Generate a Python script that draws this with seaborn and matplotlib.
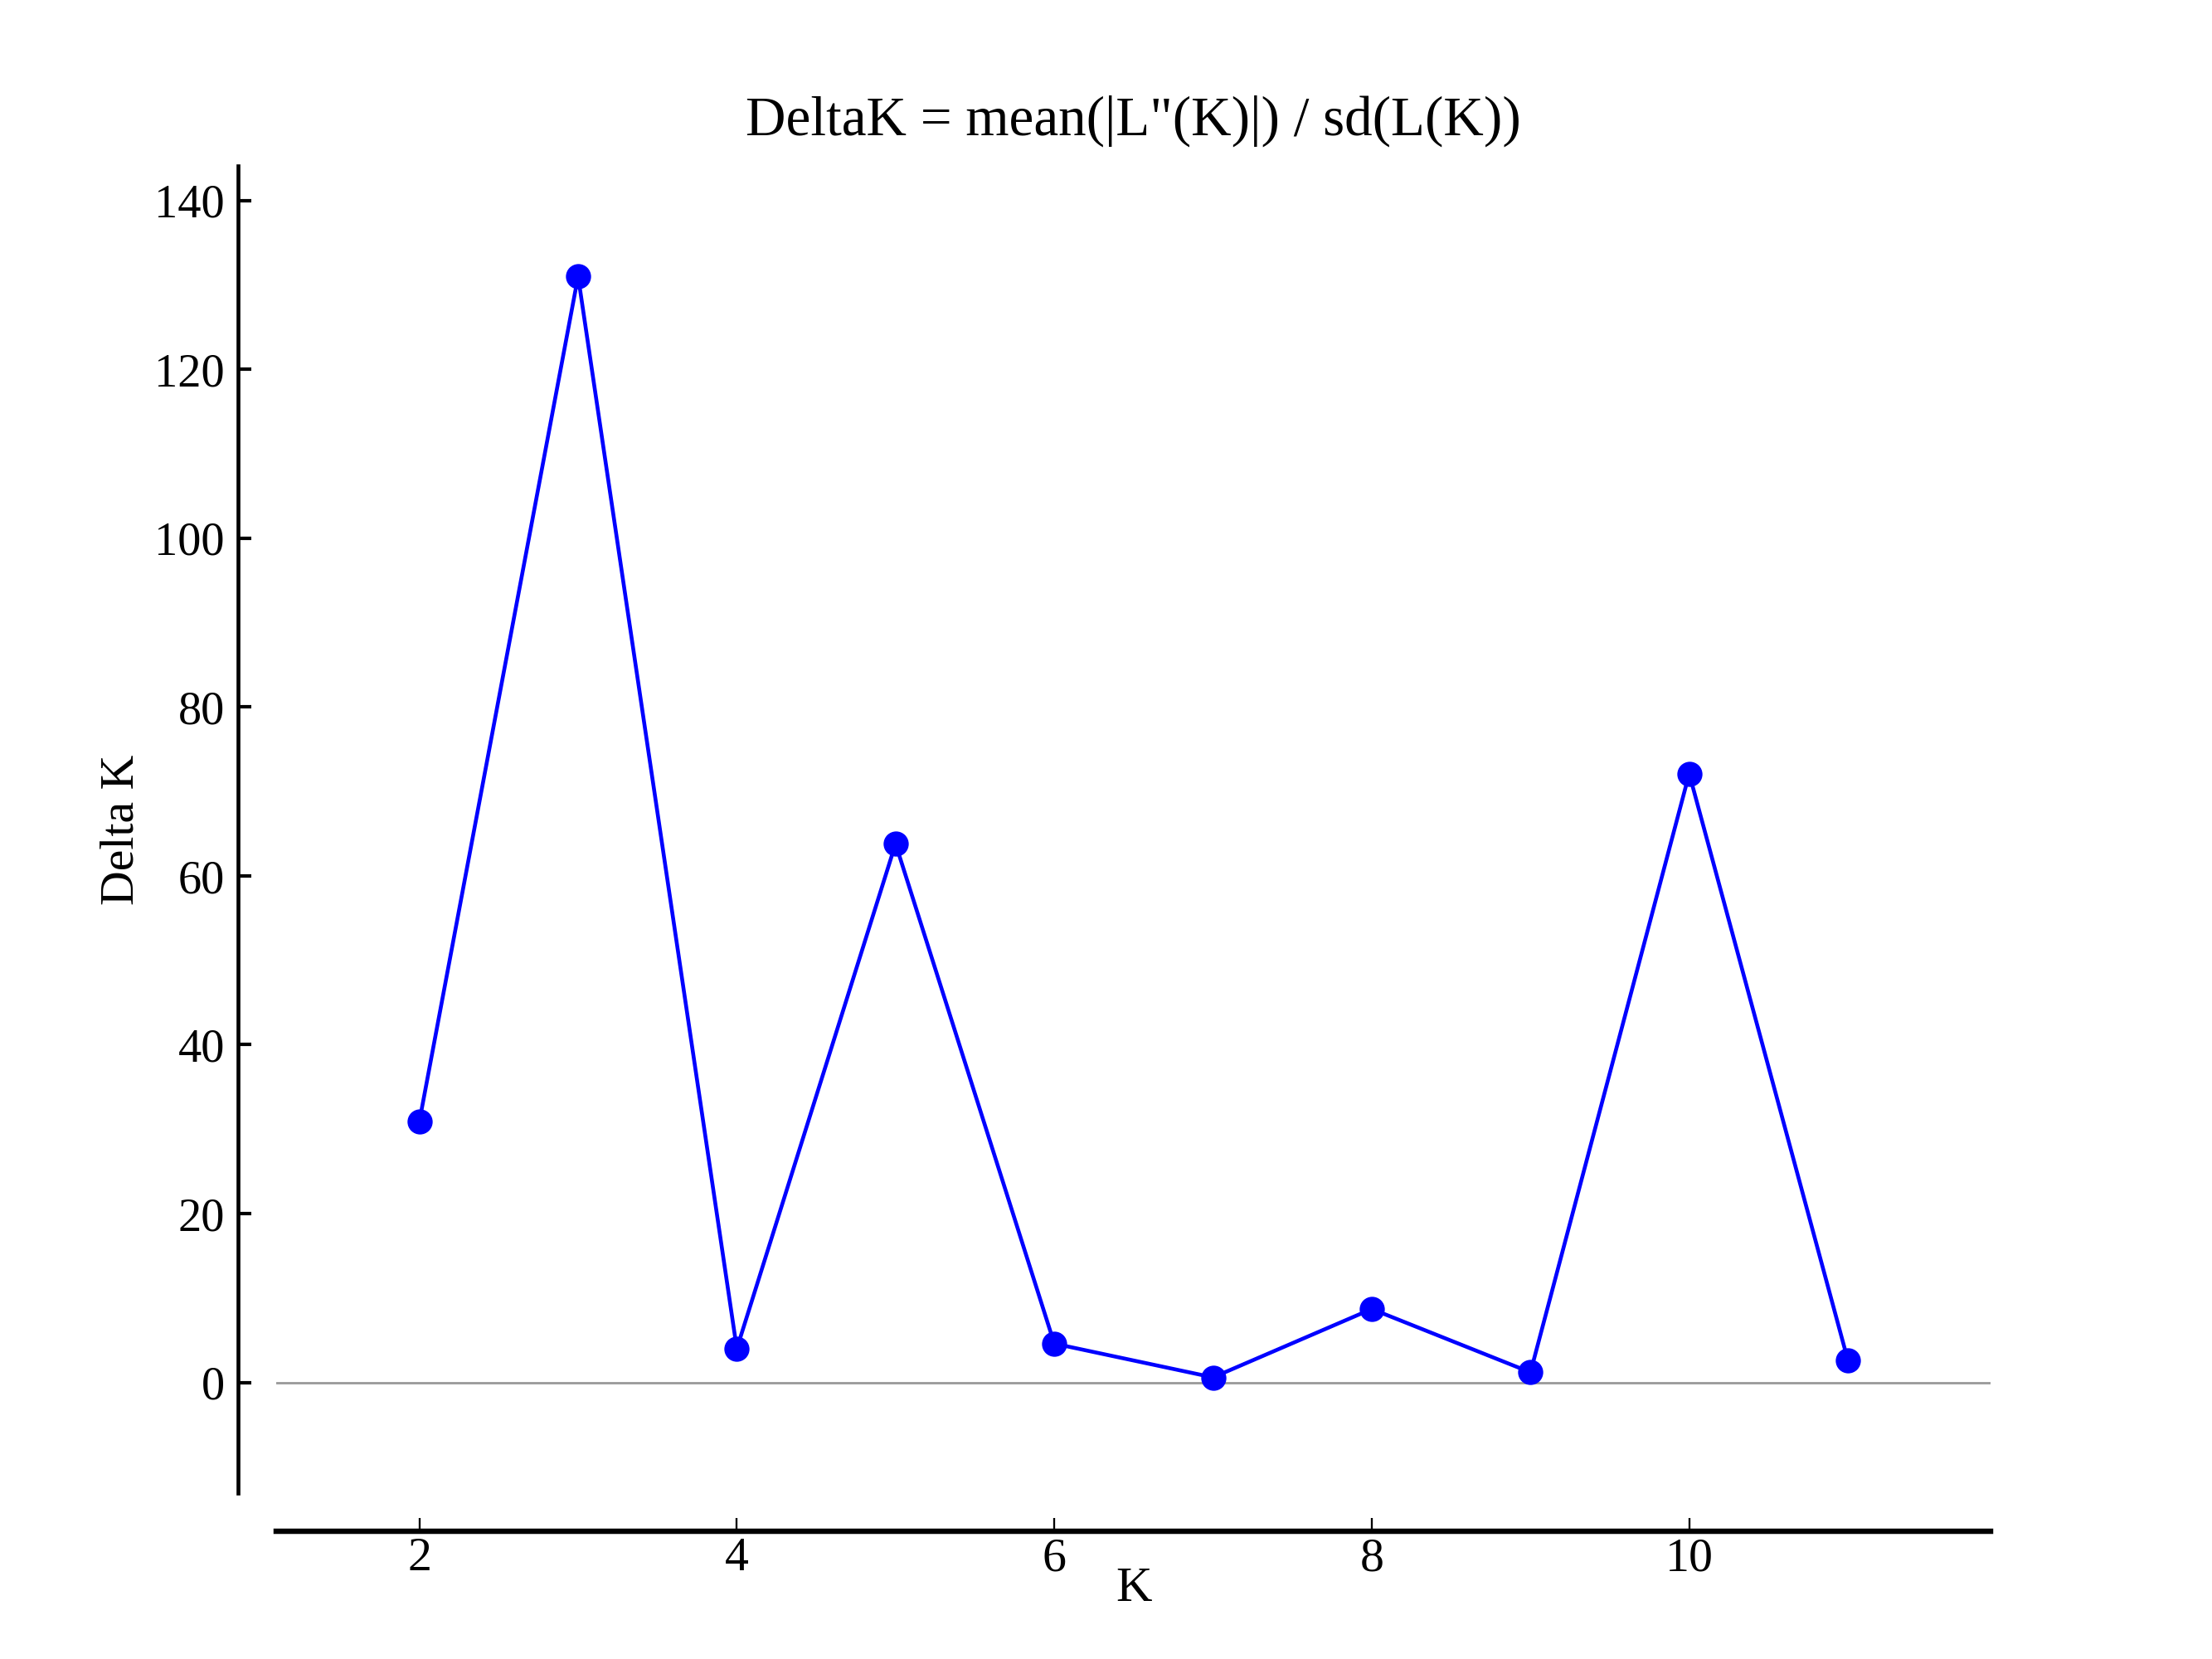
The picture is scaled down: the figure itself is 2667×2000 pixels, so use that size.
import matplotlib
matplotlib.use('Agg')
import matplotlib.pyplot as plt
import seaborn as sns
import pandas as pd

# === DATA ===
K_VALUES = [2, 3, 4, 5, 6, 7, 8, 9, 10, 11]
DELTA_K = [30.9, 131.0, 4.0, 63.8, 4.6, 0.6, 8.7, 1.2, 72.1, 2.6]
X_TICKS = [2, 4, 6, 8, 10]
Y_TICKS = [0, 20, 40, 60, 80, 100, 120, 140]

TITLE = 'DeltaK = mean(|L"(K)|) / sd(L(K))'
XLABEL = 'K'
YLABEL = 'Delta K'

# === STYLE ===
DPI = 333.375
COLOR_LINE = 'blue'
COLOR_ZERO = '#999999'

sns.set_style('ticks')
plt.rcParams['font.family'] = ['Liberation Serif', 'DejaVu Serif']
plt.rcParams['text.color'] = 'black'
plt.rcParams['axes.labelcolor'] = 'black'
plt.rcParams['xtick.color'] = 'black'
plt.rcParams['ytick.color'] = 'black'
plt.rcParams['xtick.direction'] = 'in'
plt.rcParams['ytick.direction'] = 'in'

df = pd.DataFrame({'K': K_VALUES, 'DeltaK': DELTA_K})

fig, ax = plt.subplots(figsize=(8, 6))
fig.subplots_adjust(left=0.125, right=0.9, bottom=0.1, top=0.9)

ax.axhline(0, color=COLOR_ZERO, linewidth=0.6, zorder=1)
sns.lineplot(data=df, x='K', y='DeltaK', ax=ax, color=COLOR_LINE,
             marker='o', markersize=5.8, markeredgecolor=COLOR_LINE,
             linewidth=1.0, zorder=3)

ax.margins(x=0.1, y=0.1)
ax.set_xticks(X_TICKS)
ax.set_yticks(Y_TICKS)
ax.tick_params(axis='x', labelsize=12.5, length=3.5, width=0.5, pad=1.5)
ax.tick_params(axis='y', labelsize=12.2, length=3.5, width=0.9, pad=3.5)

ax.set_title(TITLE, fontsize=14.5, pad=8)
ax.set_xlabel(XLABEL, fontsize=13, labelpad=-3.5)
ax.set_ylabel(YLABEL, fontsize=12.5, labelpad=3)

sns.despine(ax=ax, offset=10)
ax.spines['left'].set_linewidth(1.0)
ax.spines['bottom'].set_linewidth(1.4)
ax.spines['left'].set_color('black')
ax.spines['bottom'].set_color('black')

plt.savefig('out.png', dpi=DPI)
plt.close()
